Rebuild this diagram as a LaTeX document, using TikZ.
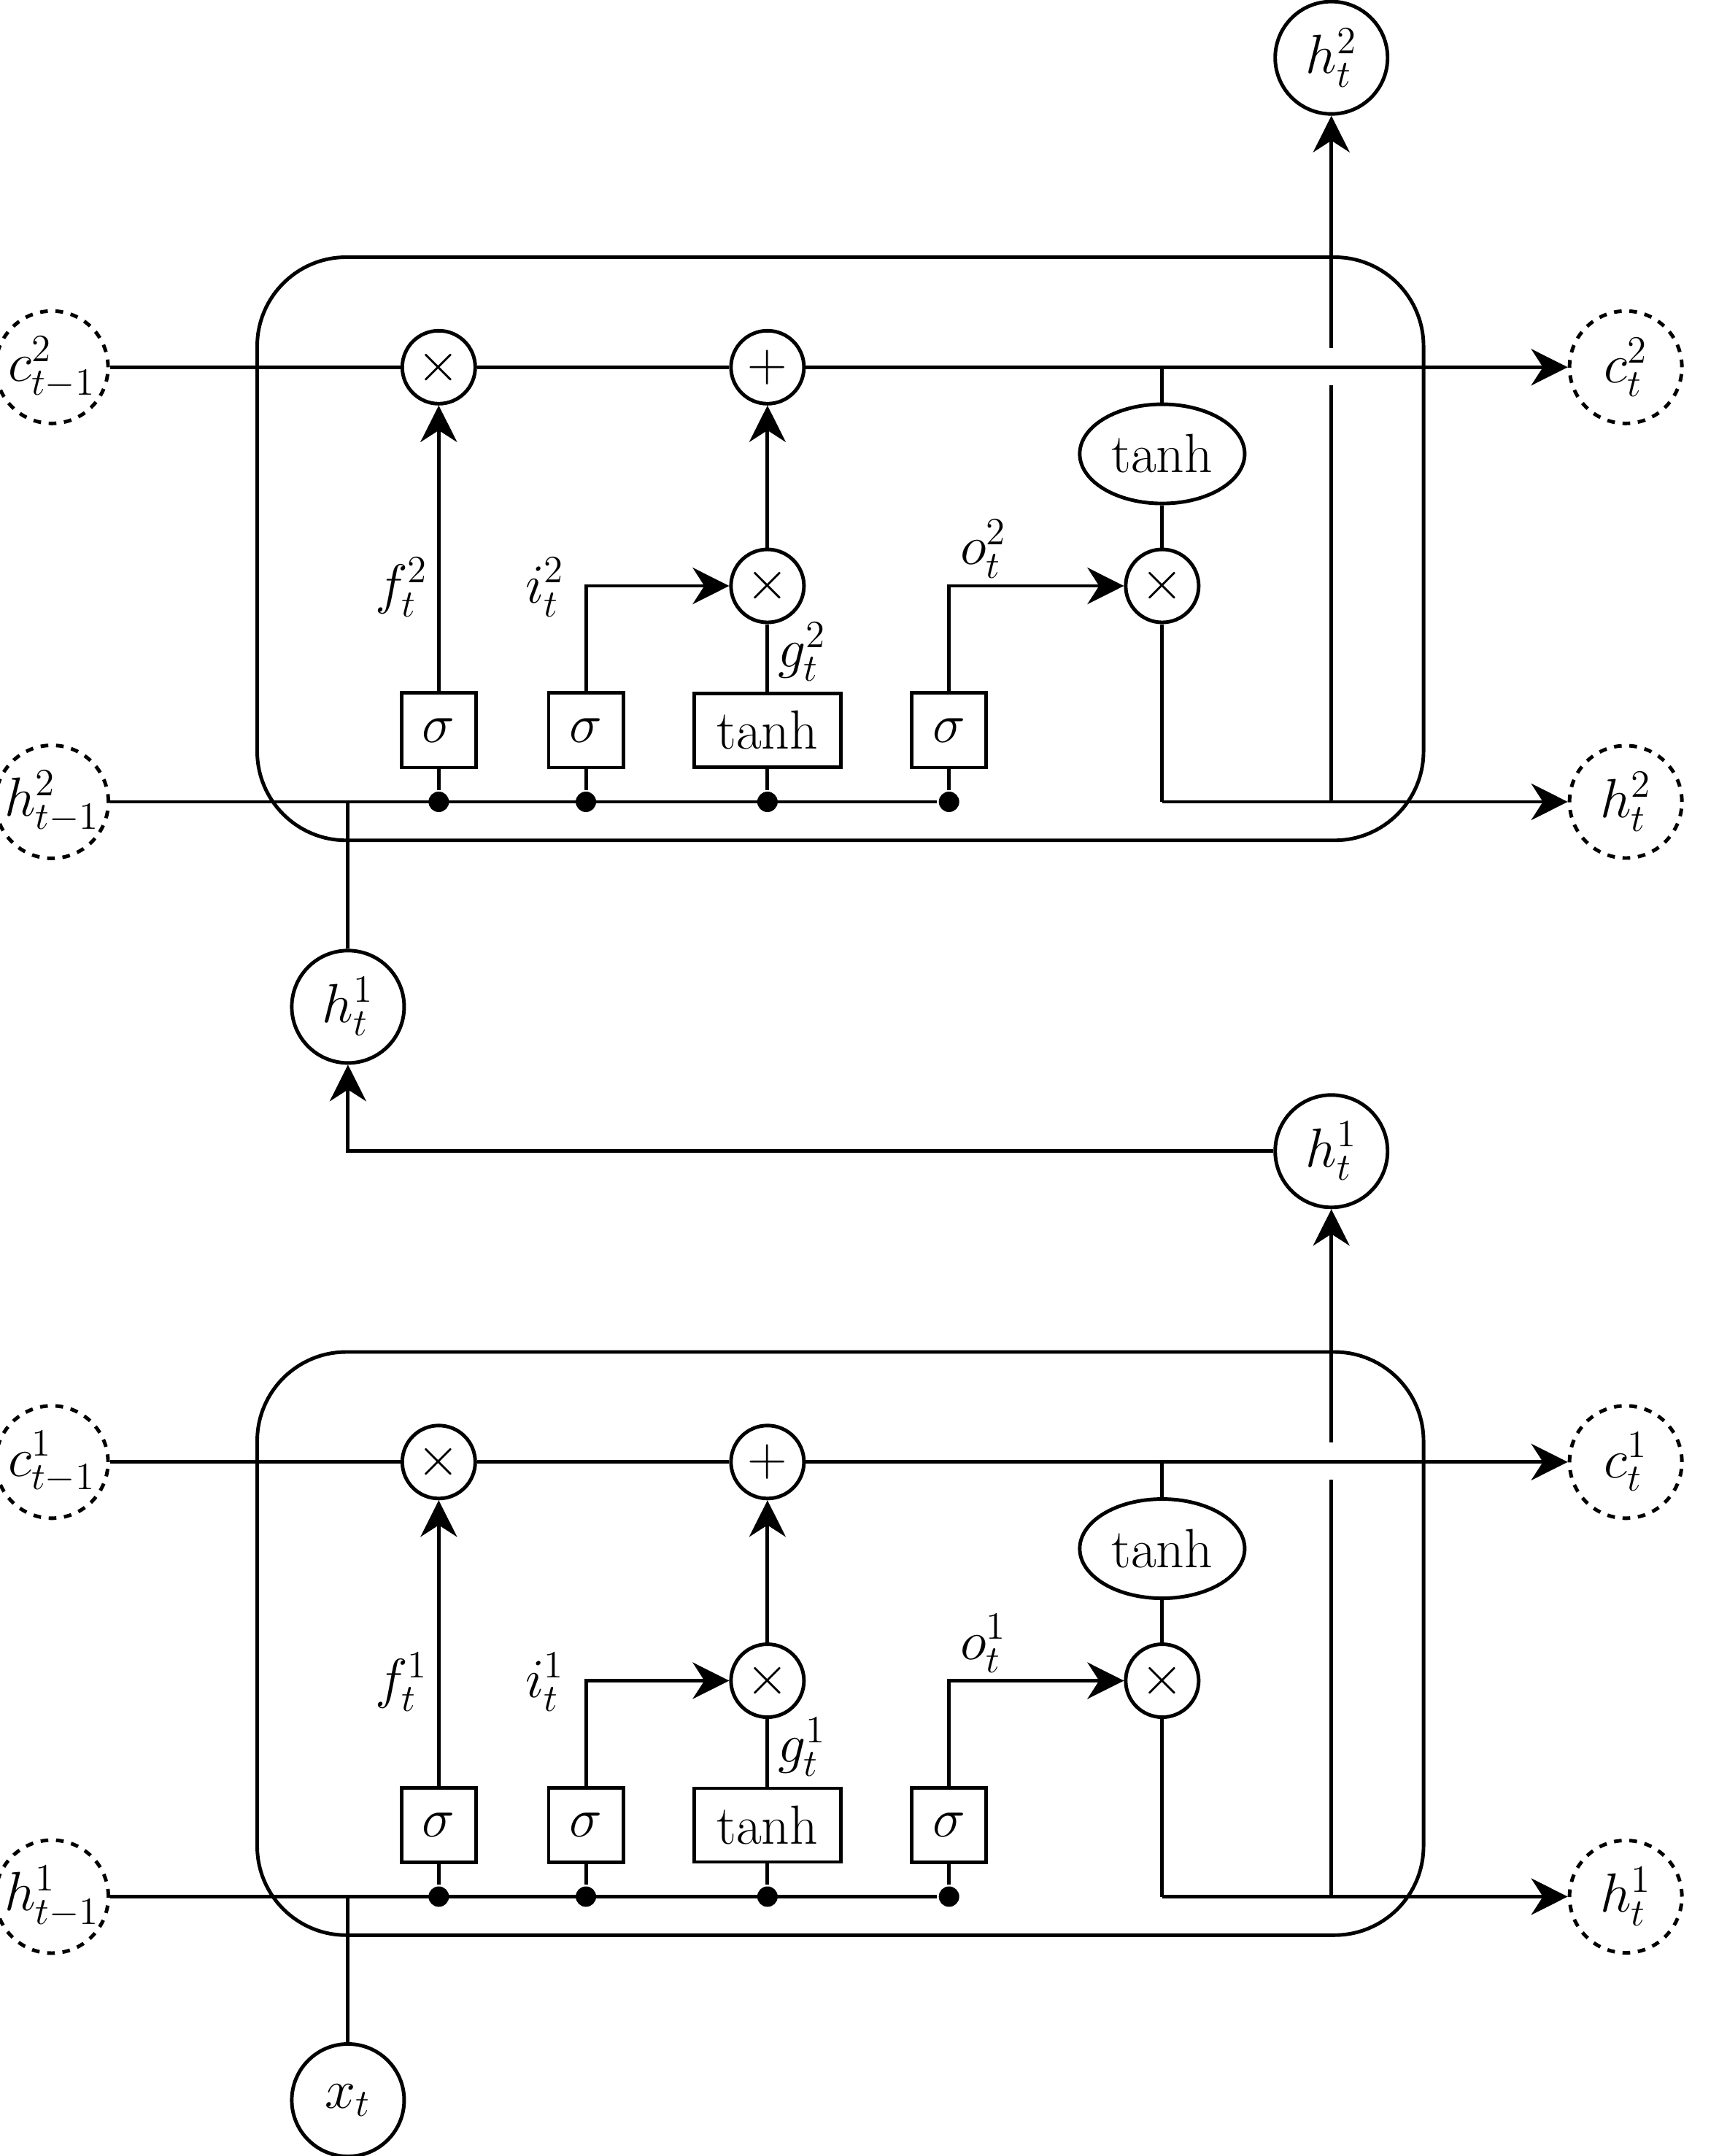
\RequirePackage{fix-cm}
\documentclass[tikz,border=0pt]{standalone}
\usetikzlibrary{arrows.meta,shapes.geometric}
\begin{document}
\begin{tikzpicture}[x=0.01885cm,y=-0.01885cm,line width=1.4pt,
  every node/.style={font=\fontsize{21.5}{25}\selectfont},
  big/.style={circle,draw,minimum size=1.54cm,inner sep=0pt},
  io/.style={big,dashed},
  op/.style={circle,draw,minimum size=1.0cm,inner sep=0pt},
  sg/.style={rectangle,draw,minimum width=1.02cm,minimum height=1.02cm,inner sep=0pt},
  tb/.style={rectangle,draw,minimum width=2.01cm,minimum height=1.01cm,inner sep=0pt},
  te/.style={ellipse,draw,minimum width=2.26cm,minimum height=1.36cm,inner sep=0pt},
  arr/.style={-{Stealth[length=5mm,width=5mm,inset=1.6mm]}},
  dot/.style={circle,fill,inner sep=0pt,minimum size=0.28cm}]
\useasboundingbox (0,0) rectangle (1249.3,1567.6);
\newcommand\lstmcell[2]{%
\begin{scope}[shift={(0,#1)}]
\draw[rounded corners=1.22cm] (187,187) rectangle (1035,611);
\node[io] (cin#2) at (37.7,267) {$c^{#2}_{t-1}$};
\node[io] (cout#2) at (1182,267) {$c^{#2}_t$};
\node[io] (hin#2) at (37.7,583) {$h^{#2}_{t-1}$};
\node[io] (hout#2) at (1182,583) {$h^{#2}_t$};
\node[op] (fx#2) at (319,267) {$\times$};
\node[op] (pl#2) at (558,267) {$+$};
\node[op] (ix#2) at (558,426) {$\times$};
\node[op] (ox#2) at (845,426) {$\times$};
\node[te] (th#2) at (845,330) {tanh};
\node[sg] (s1#2) at (319,531) {$\sigma$};
\node[sg] (s2#2) at (426,531) {$\sigma$};
\node[tb] (tb#2) at (558,531) {tanh};
\node[sg] (s4#2) at (690,531) {$\sigma$};
\node[dot] (d1#2) at (319,583) {};
\node[dot] (d2#2) at (426,583) {};
\node[dot] (d3#2) at (558,583) {};
\node[dot] (d4#2) at (690,583) {};
\coordinate (ct#2) at (845,267);
\coordinate (hc#2) at (845,583);
\node (fl#2) at (292,427) {$f^{#2}_t$};
\node (il#2) at (396,427) {$i^{#2}_t$};
\node (gl#2) at (583,474) {$g^{#2}_t$};
\node (ol#2) at (715,399) {$o^{#2}_t$};
\draw (cin#2) -- (fx#2) -- (pl#2);
\draw[arr] (pl#2) -- (cout#2);
\draw (ct#2) -- (th#2) -- (ox#2);
\draw (hin#2) -- (d4#2);
\draw (d1#2) -- (s1#2); \draw (d2#2) -- (s2#2); \draw (d3#2) -- (tb#2); \draw (d4#2) -- (s4#2);
\draw[arr] (s1#2) -- (fx#2);
\draw[arr] (s2#2) |- (ix#2);
\draw (tb#2) -- (ix#2);
\draw[arr] (ix#2) -- (pl#2);
\draw[arr] (s4#2) |- (ox#2);
\draw (ox#2) -- (hc#2);
\draw[arr] (hc#2) -- (hout#2);
\end{scope}}
\lstmcell{0}{2}
\lstmcell{796}{1}
\node[big] (htop) at (968,42) {$h^2_t$};
\node[big] (hmid) at (968,837) {$h^1_t$};
\node[big] (hleft) at (253,732) {$h^1_t$};
\node[big] (xt) at (253,1527) {$x_t$};
\coordinate (v2a) at (968,583); \coordinate (v2b) at (968,280); \coordinate (v2c) at (968,253);
\coordinate (v1a) at (968,1379); \coordinate (v1b) at (968,1076); \coordinate (v1c) at (968,1049);
\coordinate (j2) at (253,583); \coordinate (j1) at (253,1379);
\draw (v2a) -- (v2b); \draw[arr] (v2c) -- (htop);
\draw (v1a) -- (v1b); \draw[arr] (v1c) -- (hmid);
\draw[arr] (hmid) -| (hleft);
\draw (hleft) -- (j2);
\draw (xt) -- (j1);
\end{tikzpicture}
\end{document}
